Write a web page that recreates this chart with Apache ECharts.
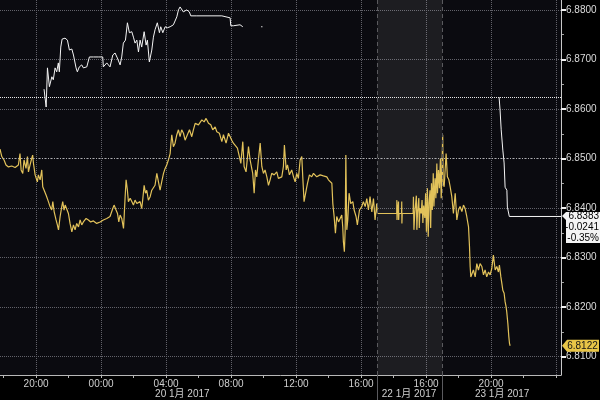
<!DOCTYPE html>
<html><head><meta charset="utf-8">
<script src="https://cdn.jsdelivr.net/npm/echarts@6/dist/echarts.min.js"></script>
<style>html,body{margin:0;padding:0;background:#000}#c{width:600px;height:400px}</style>
</head><body><div id="c"></div>
<script>
// x = session-compressed hours since 19 Jan 20:00 (weekend gap removed)
const xMin = -2.22, xMax = 32.3;
const yMin = 6.8063, yMax = 6.8820;
const xLabelPos = [0, 4, 8, 12, 16, 20, 24, 28];
const xLabelText = ['20:00', '00:00', '04:00', '08:00', '12:00', '16:00', '16:00', '20:00'];
const xTickPos = [-2, 0, 2, 4, 6, 8, 10, 12, 14, 16, 18, 20, 22, 24, 26, 28, 30, 32];
const xGridPos = [0, 4, 8, 12, 16, 20, 24, 28, 32];
const dateLabelPos = [9.0, 22.95, 28.68];
const dateLabelText = ['20 1月 2017', '22 1月 2017', '23 1月 2017'];
const sessionBreaks = [21, 25];
const yMajor = [6.81, 6.82, 6.83, 6.84, 6.85, 6.86, 6.87, 6.88];
const yMinor = [6.815, 6.825, 6.835, 6.845, 6.855, 6.865, 6.875];
const whitePrevClose = 6.8624;
const goldRef = 6.8500;

const goldFri = [[-2.22,6.8519],[-2.11,6.8504],[-1.97,6.8497],[-1.85,6.8487],[-1.70,6.8483],[-1.50,6.8485],[-1.29,6.8482],[-1.19,6.8480],[-1.09,6.8487],[-0.99,6.8510],[-0.92,6.8477],[-0.82,6.8470],[-0.74,6.8497],[-0.62,6.8480],[-0.53,6.8504],[-0.47,6.8473],[-0.37,6.8487],[-0.27,6.8500],[-0.21,6.8507],[-0.16,6.8490],[-0.06,6.8467],[0.04,6.8463],[0.08,6.8453],[0.14,6.8467],[0.25,6.8457],[0.35,6.8477],[0.41,6.8443],[0.49,6.8446],[0.62,6.8426],[0.70,6.8430],[0.76,6.8413],[0.86,6.8403],[0.96,6.8396],[1.03,6.8413],[1.11,6.8393],[1.23,6.8376],[1.31,6.8366],[1.38,6.8356],[1.48,6.8383],[1.58,6.8403],[1.64,6.8413],[1.72,6.8396],[1.79,6.8406],[1.89,6.8409],[1.99,6.8389],[2.09,6.8369],[2.20,6.8352],[2.30,6.8366],[2.40,6.8356],[2.50,6.8369],[2.61,6.8362],[2.71,6.8376],[2.81,6.8366],[2.91,6.8372],[3.08,6.8379],[3.22,6.8376],[3.36,6.8372],[3.53,6.8374],[3.73,6.8369],[3.94,6.8372],[4.14,6.8376],[4.35,6.8379],[4.55,6.8383],[4.72,6.8399],[4.80,6.8406],[4.92,6.8396],[5.01,6.8389],[5.09,6.8372],[5.17,6.8386],[5.27,6.8379],[5.38,6.8359],[5.42,6.8383],[5.48,6.8423],[5.54,6.8457],[5.62,6.8436],[5.68,6.8413],[5.79,6.8420],[5.89,6.8413],[5.99,6.8406],[6.09,6.8416],[6.20,6.8409],[6.30,6.8406],[6.40,6.8413],[6.50,6.8399],[6.56,6.8416],[6.65,6.8446],[6.73,6.8430],[6.81,6.8436],[6.91,6.8416],[7.02,6.8423],[7.12,6.8436],[7.22,6.8433],[7.32,6.8446],[7.43,6.8470],[7.53,6.8453],[7.63,6.8436],[7.73,6.8453],[7.84,6.8470],[7.94,6.8480],[8.04,6.8487],[8.14,6.8497],[8.25,6.8510],[8.29,6.8527],[8.35,6.8548],[8.45,6.8524],[8.55,6.8531],[8.66,6.8548],[8.76,6.8558],[8.86,6.8544],
[8.96,6.8558],[9.07,6.8551],[9.17,6.8537],[9.31,6.8548],[9.44,6.8558],[9.58,6.8544],[9.68,6.8558],[9.79,6.8571],[9.99,6.8568],[10.20,6.8578],[10.34,6.8574],[10.46,6.8581],[10.61,6.8571],[10.75,6.8568],[10.87,6.8558],[11.02,6.8564],[11.12,6.8554],[11.28,6.8551],[11.43,6.8534],[11.53,6.8548],[11.69,6.8531],[11.84,6.8551],[11.94,6.8544],[12.04,6.8537],[12.14,6.8531],[12.25,6.8534],[12.39,6.8521],[12.51,6.8504],[12.60,6.8490],[12.72,6.8534],[12.80,6.8484],[12.92,6.8473],[13.07,6.8524],[13.17,6.8497],[13.27,6.8480],[13.33,6.8470],[13.42,6.8430],[13.50,6.8477],[13.58,6.8463],[13.68,6.8497],[13.79,6.8531],[13.89,6.8484],[13.99,6.8470],[14.09,6.8477],[14.20,6.8463],[14.30,6.8446],[14.40,6.8457],[14.50,6.8470],[14.65,6.8467],[14.81,6.8473],[14.91,6.8460],[15.02,6.8457],[15.12,6.8463],[15.22,6.8484],[15.28,6.8527],[15.39,6.8477],[15.47,6.8487],[15.59,6.8467],[15.73,6.8477],[15.84,6.8463],[15.94,6.8453],[16.04,6.8470],[16.14,6.8460],[16.25,6.8497],[16.35,6.8504],[16.41,6.8463],[16.49,6.8413],[16.62,6.8436],[16.70,6.8450],[16.82,6.8467],[16.96,6.8463],[17.07,6.8470],[17.27,6.8463],[17.48,6.8467],[17.68,6.8465],[17.89,6.8463],[17.99,6.8457],[18.09,6.8460],[18.20,6.8450],[18.26,6.8409],[18.34,6.8383],[18.42,6.8349],[18.50,6.8383],[18.61,6.8372],[18.71,6.8379],[18.81,6.8386],[18.87,6.8362],[18.91,6.8332],[18.97,6.8312],[19.02,6.8356],[19.06,6.8507],[19.12,6.8356],[19.18,6.8376],[19.26,6.8430],[19.36,6.8409],[19.49,6.8413],[19.57,6.8396],[19.69,6.8383],[19.77,6.8366],[19.90,6.8396],[20.04,6.8403],[20.14,6.8413],[20.25,6.8403],[20.35,6.8419],[20.45,6.8396],[20.55,6.8423],[20.66,6.8392],[20.76,6.8419],[20.86,6.8376],[20.96,6.8409]];
const goldSun = [[21.00,6.8389],[22.19,6.8389],[22.20,6.8416],[22.21,6.8376],[22.23,6.8389],[22.29,6.8389],[22.30,6.8413],[22.31,6.8376],[22.33,6.8389],[22.49,6.8389],[22.50,6.8413],[22.51,6.8369],[22.53,6.8389],[23.20,6.8389],[23.22,6.8423],[23.25,6.8356],[23.30,6.8389],[23.38,6.8389],[23.40,6.8425],[23.43,6.8356],[23.47,6.8389],[23.55,6.8420],[23.58,6.8360],[23.62,6.8400],[23.70,6.8389],[23.75,6.8416],[23.80,6.8370],[23.85,6.8405],[23.92,6.8380],[23.97,6.8430],[24.02,6.8352],[24.08,6.8440],[24.13,6.8342],[24.18,6.8410],[24.24,6.8436],[24.28,6.8360],[24.33,6.8450],[24.38,6.8396],[24.44,6.8470],[24.48,6.8403],[24.55,6.8460],[24.60,6.8420],[24.66,6.8490],[24.70,6.8430],[24.76,6.8477],[24.82,6.8440],[24.88,6.8500],[24.93,6.8420],[24.97,6.8470],[25.02,6.8548],[25.05,6.8450]];
const goldMon = [[25.11,6.8443],[25.23,6.8510],[25.31,6.8463],[25.40,6.8457],[25.48,6.8443],[25.58,6.8423],[25.68,6.8389],[25.79,6.8430],[25.89,6.8376],[25.99,6.8396],[26.09,6.8403],[26.20,6.8393],[26.30,6.8406],[26.40,6.8399],[26.50,6.8383],[26.61,6.8362],[26.67,6.8322],[26.71,6.8282],[26.75,6.8261],[26.83,6.8268],[26.91,6.8275],[27.02,6.8261],[27.12,6.8288],[27.22,6.8275],[27.32,6.8288],[27.43,6.8282],[27.53,6.8265],[27.63,6.8275],[27.73,6.8261],[27.84,6.8271],[27.94,6.8265],[28.04,6.8278],[28.14,6.8305],[28.25,6.8275],[28.35,6.8282],[28.45,6.8271],[28.51,6.8285],[28.60,6.8261],[28.66,6.8248],[28.72,6.8234],[28.80,6.8228],[28.86,6.8211],[28.92,6.8201],[28.96,6.8191],[29.03,6.8167],[29.09,6.8140],[29.13,6.8127],[29.17,6.8122]];

const whiteFri = [[0.49,6.8640],[0.62,6.8604],[0.70,6.8683],[0.82,6.8645],[0.97,6.8665],[1.06,6.8659],[1.17,6.8683],[1.27,6.8675],[1.37,6.8693],[1.43,6.8675],[1.52,6.8725],[1.60,6.8741],[1.78,6.8743],[1.93,6.8739],[2.05,6.8719],[2.20,6.8721],[2.30,6.8709],[2.46,6.8683],[2.54,6.8675],[2.66,6.8685],[2.81,6.8689],[2.91,6.8683],[3.12,6.8685],[3.28,6.8705],[3.53,6.8705],[3.83,6.8705],[4.10,6.8705],[4.14,6.8685],[4.35,6.8693],[4.55,6.8685],[4.72,6.8709],[4.86,6.8713],[5.00,6.8703],[5.17,6.8689],[5.27,6.8705],[5.37,6.8733],[5.50,6.8739],[5.62,6.8774],[5.74,6.8754],[5.89,6.8756],[5.99,6.8745],[6.09,6.8733],[6.20,6.8739],[6.30,6.8715],[6.40,6.8739],[6.50,6.8725],[6.65,6.8756],[6.77,6.8729],[6.85,6.8739],[6.97,6.8695],[7.12,6.8719],[7.22,6.8745],[7.32,6.8760],[7.46,6.8774],[7.59,6.8754],[7.67,6.8766],[7.80,6.8754],[7.94,6.8766],[8.08,6.8764],[8.25,6.8766],[8.45,6.8770],[8.66,6.8786],[8.76,6.8800],[8.86,6.8806],[8.97,6.8806],[9.06,6.8796],[9.27,6.8800],[9.43,6.8796],[9.52,6.8788],[9.89,6.8788],[11.43,6.8788],[11.49,6.8784],[11.94,6.8784],[11.98,6.8768],[12.14,6.8768],[12.25,6.8770],[12.55,6.8770],[12.72,6.8766]];
const whiteLate = [[13.85,6.8766],[13.93,6.8766]];
const whiteMon = [[28.49,6.8624],[28.55,6.8598],[28.62,6.8558],[28.72,6.8517],[28.80,6.8491],[28.86,6.8442],[28.97,6.8436],[29.00,6.8402],[29.11,6.8402],[29.12,6.8383],[32.3,6.8383]];

const FONT = '"Liberation Sans", "Noto Sans CJK SC", sans-serif';
const goldData = goldFri.concat(goldSun, goldMon);
const whiteData = whiteFri.concat([[13.3, null]], whiteLate, [[20, null]], whiteMon);
const goldLast = goldMon[goldMon.length - 1][1];
const whiteLast = whiteMon[whiteMon.length - 1][1];
const chg = whiteLast - whitePrevClose;
const pct = chg / whitePrevClose * 100;

const gridRect = {left: 0, right: 39, top: 0, bottom: 25, outerBoundsMode: 'none', containLabel: false};
const near = (arr, v) => arr.findIndex(a => Math.abs(a - v) < 1e-6);
const dotted = {color: '#62626a', type: [1, 1], width: 1};

const chart = echarts.init(document.getElementById('c'), null, {renderer: 'canvas'});
chart.setOption({
  backgroundColor: '#000000',
  animation: false,
  textStyle: {fontFamily: FONT},
  grid: [
    Object.assign({show: true, backgroundColor: '#0b0b10', borderWidth: 0}, gridRect),
    Object.assign({show: false}, gridRect),
    Object.assign({show: false}, gridRect)
  ],
  xAxis: [{
    type: 'value', gridIndex: 0, min: xMin, max: xMax, position: 'bottom',
    axisLine: {show: true, onZero: false, lineStyle: {color: '#b8b8b8', width: 1}},
    axisTick: {show: true, customValues: xTickPos, length: 3, lineStyle: {color: '#b8b8b8'}},
    axisLabel: {customValues: xLabelPos, margin: 4, color: '#d0d0d0', fontSize: 10, fontFamily: FONT,
      formatter: v => { const i = near(xLabelPos, v); return i >= 0 ? xLabelText[i] : ''; }},
    splitLine: {show: false}
  }, {
    type: 'value', gridIndex: 1, min: xMin, max: xMax, position: 'bottom',
    axisLine: {show: false, onZero: false},
    axisTick: {show: true, customValues: sessionBreaks, length: 25, lineStyle: {color: '#5a5a5e', width: 1}},
    axisLabel: {customValues: dateLabelPos, margin: 14, color: '#d0d0d0', fontSize: 10, fontFamily: FONT,
      formatter: v => { const i = near(dateLabelPos, v); return i >= 0 ? dateLabelText[i] : ''; }},
    splitLine: {show: false}
  }, {
    type: 'value', gridIndex: 2, min: xMin, max: xMax, position: 'bottom', z: 1,
    axisLine: {show: false, onZero: false},
    axisTick: {show: false, customValues: xGridPos},
    axisLabel: {show: false},
    splitLine: {show: true, lineStyle: dotted}
  }],
  yAxis: [{
    type: 'value', gridIndex: 0, position: 'right', min: yMin, max: yMax, z: 1,
    axisLine: {show: true, onZero: false, lineStyle: {color: '#c8c8c8', width: 1}},
    axisTick: {show: true, customValues: yMajor, length: 5, lineStyle: {color: '#f0f0f0', width: 2}},
    axisLabel: {customValues: yMajor, margin: 5, color: '#dcdcdc', fontSize: 10, fontFamily: FONT,
      formatter: v => v.toFixed(4)},
    splitLine: {show: true, lineStyle: dotted}
  }, {
    type: 'value', gridIndex: 1, position: 'right', min: yMin, max: yMax,
    axisLine: {show: false, onZero: false},
    axisTick: {show: true, customValues: yMinor, length: 3, lineStyle: {color: '#a0a0a0', width: 1}},
    axisLabel: {show: false},
    splitLine: {show: false}
  }, {
    type: 'value', gridIndex: 2, position: 'right', min: yMin, max: yMax,
    axisLine: {show: false, onZero: false}, axisTick: {show: false}, axisLabel: {show: false},
    splitLine: {show: false}
  }],
  series: [
    {
      type: 'line', xAxisIndex: 0, yAxisIndex: 0, data: [], z: 1, silent: true,
      markArea: {silent: true, itemStyle: {color: 'rgba(255,255,255,0.075)'},
        data: [[{xAxis: sessionBreaks[0]}, {xAxis: sessionBreaks[1]}]]}
    },
    {
      type: 'line', xAxisIndex: 0, yAxisIndex: 0, data: [], z: 2, silent: true,
      markLine: {
        silent: true, symbol: ['none', 'none'], label: {show: false}, animation: false, precision: 6,
        data: [].concat(
          sessionBreaks.map(v => ({xAxis: v, lineStyle: {color: '#5a5a5e', type: [4, 3], width: 1}})),
          [{yAxis: whitePrevClose, lineStyle: {color: '#e8e8e8', type: [1, 1], width: 1}},
           {yAxis: goldRef, lineStyle: {color: '#b0b0b0', type: [1, 2], width: 1}}]
        )
      }
    },
    {
      name: 'CNH', type: 'line', xAxisIndex: 0, yAxisIndex: 0, data: goldData, z: 3,
      showSymbol: false, symbol: 'none', lineStyle: {color: '#e2c25a', width: 1.2}, silent: true,
      markPoint: {
        silent: true, animation: false,
        symbol: 'path://M0,6 L5,0 L37,0 L37,12 L5,12 Z', symbolSize: [37, 12], symbolKeepAspect: false,
        symbolOffset: [19.5, 0],
        itemStyle: {color: '#e8c547'},
        label: {show: true, position: 'inside', color: '#151515', fontSize: 10, fontFamily: FONT, offset: [2, 0],
          formatter: () => goldLast.toFixed(4)},
        data: [{coord: [xMax, goldLast], value: goldLast}]
      }
    },
    {
      name: 'CNY', type: 'line', xAxisIndex: 0, yAxisIndex: 0, data: whiteData, z: 4,
      showSymbol: false, symbol: 'none', connectNulls: false, lineStyle: {color: '#f4f4f4', width: 1}, silent: true,
      markPoint: {
        silent: true, animation: false,
        symbol: 'path://M0,4 L4,0 L38,0 L38,31 L4,31 L4,8 Z', symbolSize: [38, 31], symbolKeepAspect: false,
        symbolOffset: [20, 11],
        itemStyle: {color: '#f4f4f4'},
        label: {show: true, position: 'inside', offset: [2, 0],
          formatter: () => '{a|' + whiteLast.toFixed(4) + '}\n{a|' + chg.toFixed(4) + '}\n{a|' + pct.toFixed(2) + '%}',
          rich: {a: {width: 32, align: 'right', fontSize: 10, lineHeight: 11, color: '#000', fontFamily: FONT}}},
        data: [{coord: [xMax, whiteLast], value: whiteLast}]
      }
    }
  ]
});
</script>
</body></html>
